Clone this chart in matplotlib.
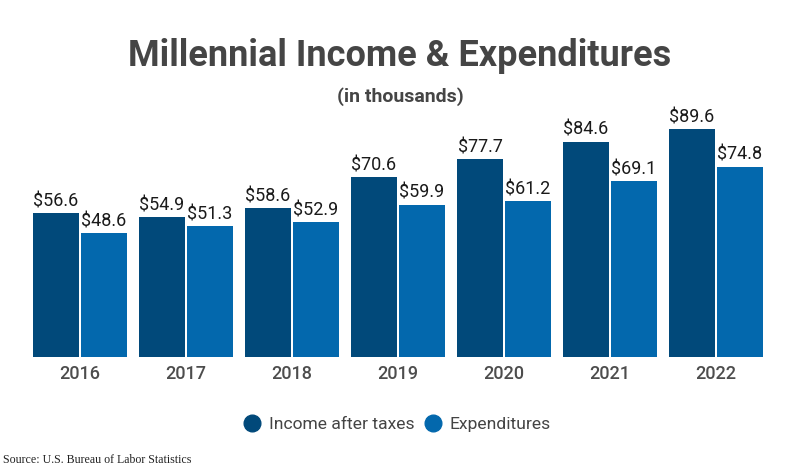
import matplotlib
matplotlib.use("Agg")
import matplotlib.pyplot as plt
import numpy as np
from matplotlib.lines import Line2D

years = ["2016", "2017", "2018", "2019", "2020", "2021", "2022"]
income = [56.6, 54.9, 58.6, 70.6, 77.7, 84.6, 89.6]
expenditures = [48.6, 51.3, 52.9, 59.9, 61.2, 69.1, 74.8]

INCOME_CLR = "#01497a"
EXP_CLR = "#0368ad"

plt.rcParams["font.family"] = ["Roboto", "DejaVu Sans"]

fig = plt.figure(figsize=(8, 4.73), dpi=100)
ax = fig.add_axes([0, 1 - 357 / 473, 1, (357 - 100) / 473])

x = np.arange(len(years))
offset = 24 / 106
width = 46 / 106
b1 = ax.bar(x - offset, income, width=width, color=INCOME_CLR)
b2 = ax.bar(x + offset, expenditures, width=width, color=EXP_CLR)

for bars in (b1, b2):
    ax.bar_label(bars, labels=[f"${v:.1f}" for v in bars.datavalues],
                 padding=2, fontsize=13, color="#1a1a1a")

ax.set_xlim(-80 / 106, 720 / 106)
ax.set_ylim(0, 257 / 2.545)
ax.set_xticks(x)
ax.set_xticklabels(years, fontsize=13, color="#4d4d4d", fontweight="medium")
ax.tick_params(axis="x", length=0, pad=5.5)
ax.set_yticks([])
for s in ax.spines.values():
    s.set_visible(False)

fig.text(0.5, 1 - 56 / 473, "Millennial Income & Expenditures", ha="center",
         va="center", fontsize=26, fontweight="bold", color="#454545")
fig.text(0.5, 1 - 97 / 473, "(in thousands)", ha="center", va="center",
         fontsize=14, fontweight="bold", color="#454545")

handles = [
    Line2D([], [], marker="o", linestyle="none", markersize=12,
           markerfacecolor=INCOME_CLR, markeredgecolor=INCOME_CLR),
    Line2D([], [], marker="o", linestyle="none", markersize=12,
           markerfacecolor=EXP_CLR, markeredgecolor=EXP_CLR),
]
fig.legend(handles, ["Income after taxes", "Expenditures"], loc="center",
           bbox_to_anchor=(0.495, 1 - 424 / 473), ncol=2, frameon=False,
           fontsize=12.6, labelcolor="#444444", handletextpad=0.35,
           columnspacing=0.45, handlelength=1.2)

fig.text(0.004, 1 - 460 / 473, "Source: U.S. Bureau of Labor Statistics",
         ha="left", va="center", fontsize=8.6, family="Liberation Serif",
         color="#222222")

fig.savefig("out.png", dpi=100)
